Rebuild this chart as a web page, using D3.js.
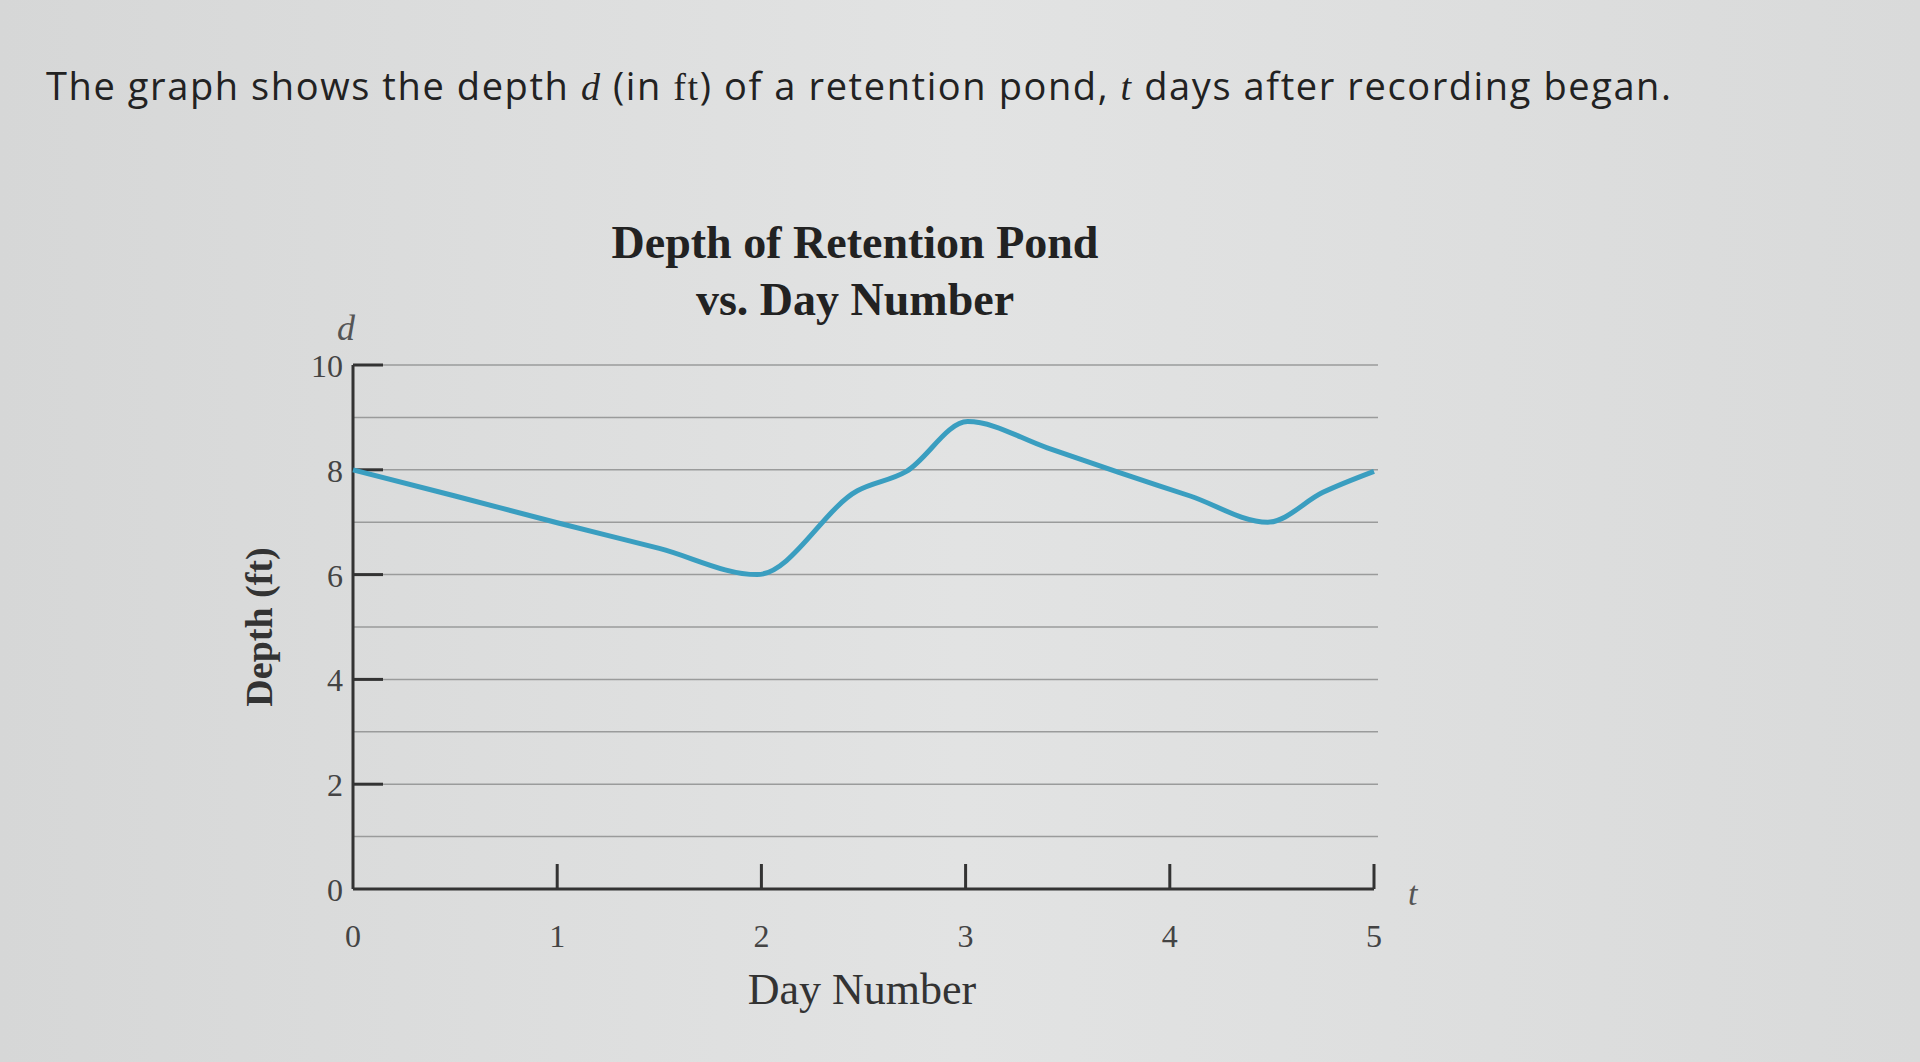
<!DOCTYPE html>
<html><head><meta charset="utf-8">
<script src="https://cdn.jsdelivr.net/npm/d3@7"></script>
<style>
body{margin:0;background:#dedfdf;}
svg{display:block;}
</style></head>
<body>
<svg id="chart" width="1920" height="1062"></svg>
<script>
const days = [0, 0.5, 1, 1.5, 1.98, 2.47, 2.71, 3.01, 3.4, 3.75, 4.1, 4.48, 4.75, 5];
const depths = [8.0, 7.5, 6.99, 6.5, 6.0, 7.6, 7.97, 8.92, 8.42, 7.95, 7.5, 7.0, 7.57, 7.97];
const xTicks = [0, 1, 2, 3, 4, 5];
const yTicks = [0, 2, 4, 6, 8, 10];
const gridLines = [1, 2, 3, 4, 5, 6, 7, 8, 9, 10];

const svg = d3.select('#chart');
const defs = svg.append('defs');
const grad = defs.append('linearGradient').attr('id', 'bg').attr('x1', 0).attr('x2', 1);
grad.append('stop').attr('offset', 0).attr('stop-color', '#d6d7d7');
grad.append('stop').attr('offset', 0.5).attr('stop-color', '#e2e3e3');
grad.append('stop').attr('offset', 1).attr('stop-color', '#d9dada');
svg.append('rect').attr('width', 1920).attr('height', 1062).attr('fill', 'url(#bg)');

const header = svg.append('text').attr('x', 46).attr('y', 100)
  .attr('font-family', 'Open Sans, sans-serif').attr('font-size', 38).attr('fill', '#222')
  .attr('textLength', 1625).attr('lengthAdjust', 'spacing');
header.append('tspan').text('The graph shows the depth ');
header.append('tspan').attr('font-family', 'Liberation Serif, serif').attr('font-style', 'italic').text('d');
header.append('tspan').text(' (in ');
header.append('tspan').attr('font-family', 'Liberation Serif, serif').text('ft');
header.append('tspan').text(') of a retention pond, ');
header.append('tspan').attr('font-family', 'Liberation Serif, serif').attr('font-style', 'italic').text('t');
header.append('tspan').text(' days after recording began.');

const x = d3.scaleLinear().domain([0, 5]).range([353, 1374]);
const y = d3.scaleLinear().domain([0, 10]).range([889, 365]);
const serif = 'Liberation Serif, Times New Roman, serif';

svg.append('text').attr('x', 855).attr('y', 258).attr('text-anchor', 'middle')
  .attr('font-family', serif).attr('font-weight', 'bold').attr('font-size', 46).attr('fill', '#222')
  .text('Depth of Retention Pond');
svg.append('text').attr('x', 855).attr('y', 315).attr('text-anchor', 'middle')
  .attr('font-family', serif).attr('font-weight', 'bold').attr('font-size', 46).attr('fill', '#222')
  .text('vs. Day Number');

// grid
svg.selectAll('.grid').data(gridLines).enter().append('line')
  .attr('x1', x(0)).attr('x2', x(5) + 4)
  .attr('y1', d => y(d)).attr('y2', d => y(d))
  .attr('stroke', '#9a9b9b').attr('stroke-width', 1.5);

// axes
svg.append('line').attr('x1', x(0)).attr('x2', x(0)).attr('y1', y(0)).attr('y2', y(10))
  .attr('stroke', '#333').attr('stroke-width', 3);
svg.append('line').attr('x1', x(0)).attr('x2', x(5)).attr('y1', y(0)).attr('y2', y(0))
  .attr('stroke', '#333').attr('stroke-width', 3);
svg.selectAll('.yt').data(yTicks.filter(d => d > 0)).enter().append('line')
  .attr('x1', x(0)).attr('x2', x(0) + 30).attr('y1', d => y(d)).attr('y2', d => y(d))
  .attr('stroke', '#333').attr('stroke-width', 3);
svg.selectAll('.xt').data(xTicks.filter(d => d > 0)).enter().append('line')
  .attr('x1', d => x(d)).attr('x2', d => x(d)).attr('y1', y(0)).attr('y2', y(0) - 25)
  .attr('stroke', '#333').attr('stroke-width', 3);

svg.selectAll('.yl').data(yTicks).enter().append('text')
  .attr('x', x(0) - 10).attr('y', d => y(d) + 12).attr('text-anchor', 'end')
  .attr('font-family', serif).attr('font-size', 32).attr('fill', '#444').text(d => d);
svg.selectAll('.xl').data(xTicks).enter().append('text')
  .attr('x', d => x(d)).attr('y', y(0) + 58).attr('text-anchor', 'middle')
  .attr('font-family', serif).attr('font-size', 32).attr('fill', '#444').text(d => d);

svg.append('text').attr('x', 337).attr('y', 340).attr('font-family', serif)
  .attr('font-style', 'italic').attr('font-size', 36).attr('fill', '#555').text('d');
svg.append('text').attr('x', 1408).attr('y', 905).attr('font-family', serif)
  .attr('font-style', 'italic').attr('font-size', 34).attr('fill', '#555').text('t');
svg.append('text').attr('x', 862).attr('y', 1004).attr('text-anchor', 'middle')
  .attr('font-family', serif).attr('font-size', 44).attr('fill', '#333').text('Day Number');
svg.append('text').attr('transform', 'translate(272,627) rotate(-90)').attr('text-anchor', 'middle')
  .attr('font-family', serif).attr('font-weight', 'bold').attr('font-size', 38).attr('fill', '#333')
  .text('Depth (ft)');

const line = d3.line().x(d => x(d[0])).y(d => y(d[1])).curve(d3.curveMonotoneX);
svg.append('path').datum(d3.zip(days, depths)).attr('d', line)
  .attr('fill', 'none').attr('stroke', '#3a9ec0').attr('stroke-width', 5);
</script>
</body></html>
